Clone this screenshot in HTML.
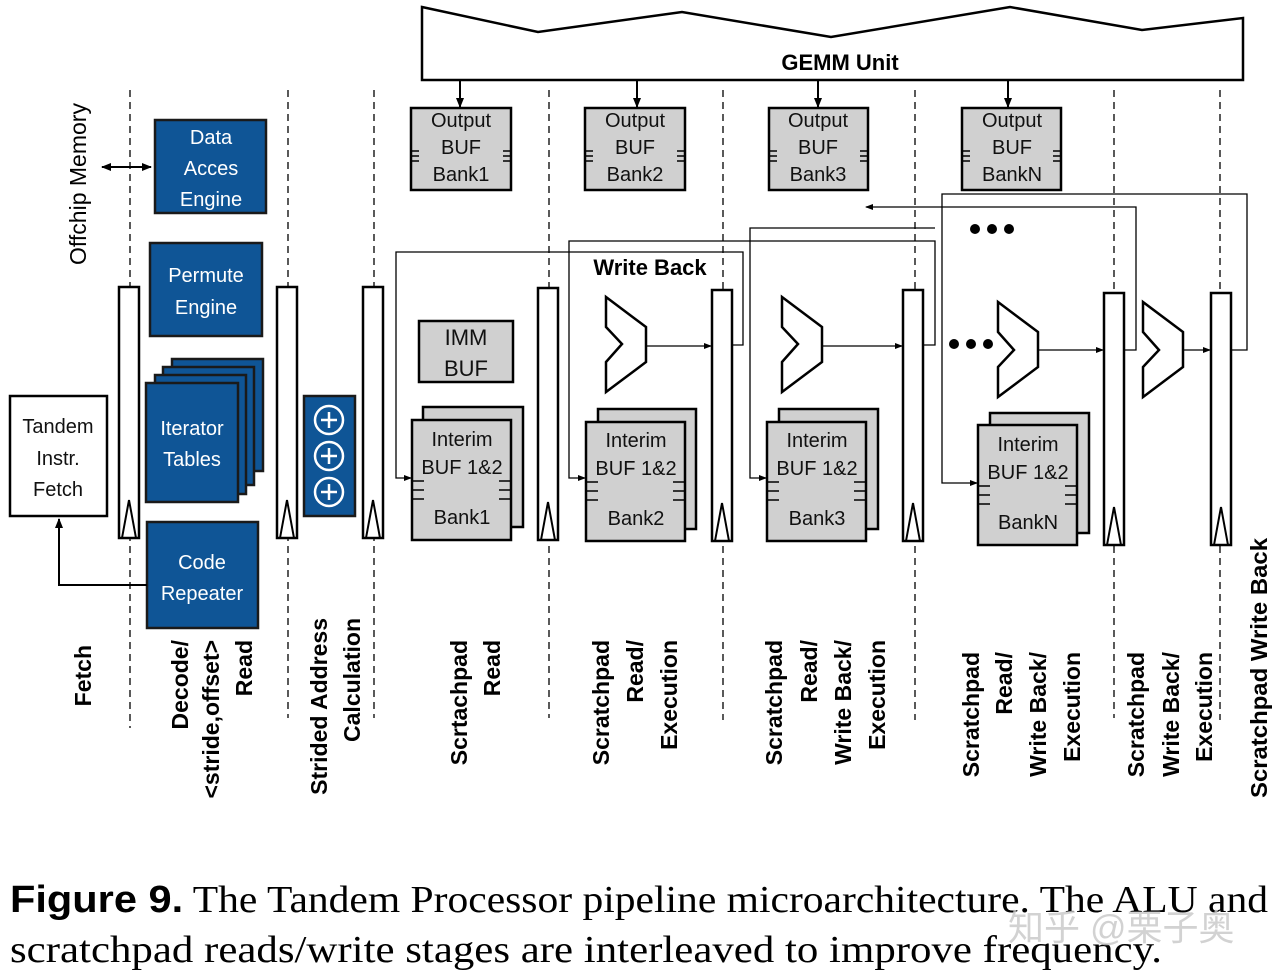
<!DOCTYPE html>
<html><head><meta charset="utf-8"><style>
html,body{margin:0;padding:0;background:#fff;}
svg{display:block;}
.b{font-family:"Liberation Sans",sans-serif;font-size:20px;fill:#fff;text-anchor:middle;}
.g{font-family:"Liberation Sans",sans-serif;font-size:20px;fill:#111;text-anchor:middle;}
.lab{font-family:"Liberation Sans",sans-serif;font-size:23px;font-weight:bold;fill:#000;text-anchor:end;}
</style></head><body>
<svg width="1280" height="978" viewBox="0 0 1280 978" xmlns="http://www.w3.org/2000/svg">
<defs>
<marker id="ar" markerWidth="10" markerHeight="8" refX="9" refY="4" orient="auto" markerUnits="userSpaceOnUse"><path d="M0,0 L10,4 L0,8 z" fill="#000"/></marker>
<marker id="as" markerWidth="8" markerHeight="6" refX="7" refY="3" orient="auto" markerUnits="userSpaceOnUse"><path d="M0,0 L8,3 L0,6 z" fill="#000"/></marker>
<marker id="al" markerWidth="10" markerHeight="8" refX="1" refY="4" orient="auto" markerUnits="userSpaceOnUse"><path d="M10,0 L0,4 L10,8 z" fill="#000"/></marker>
</defs>

<!-- GEMM -->
<path d="M422,7 L538,32 L682,12 L831,37 L1010,7 L1142,30 L1243,18 L1243,80 L422,80 Z" fill="#fff" stroke="#000" stroke-width="2.5"/>
<text x="840" y="70" style="font-family:'Liberation Sans',sans-serif;font-size:22px;font-weight:bold;text-anchor:middle">GEMM Unit</text>
<g stroke="#000" stroke-width="2" marker-end="url(#ar)">
<line x1="460" y1="80" x2="460" y2="107"/><line x1="637" y1="80" x2="637" y2="107"/><line x1="818" y1="80" x2="818" y2="107"/><line x1="1008" y1="80" x2="1008" y2="107"/>
</g>

<!-- dashed lines -->
<g stroke="#000" stroke-width="1.3" stroke-dasharray="7,5">
<line x1="130" y1="90" x2="130" y2="728"/><line x1="288" y1="90" x2="288" y2="718"/><line x1="374" y1="90" x2="374" y2="718"/>
<line x1="549" y1="90" x2="549" y2="718"/><line x1="723" y1="90" x2="723" y2="720"/><line x1="915" y1="90" x2="915" y2="720"/>
<line x1="1114" y1="90" x2="1114" y2="718"/><line x1="1220" y1="90" x2="1220" y2="720"/>
</g>

<!-- Output bufs -->
<g stroke="#000" stroke-width="2.5" fill="#d0d0d0">
<rect x="411" y="108" width="100" height="82"/><rect x="585" y="108" width="100" height="82"/><rect x="769" y="108" width="99" height="82"/><rect x="962" y="108" width="99" height="82"/>
</g>
<g stroke="#000" stroke-width="1.5">
<path d="M411,151h8M411,156h8M411,161h8M503,151h8M503,156h8M503,161h8"/>
<path d="M585,151h8M585,156h8M585,161h8M677,151h8M677,156h8M677,161h8"/>
<path d="M769,151h8M769,156h8M769,161h8M860,151h8M860,156h8M860,161h8"/>
<path d="M962,151h8M962,156h8M962,161h8M1053,151h8M1053,156h8M1053,161h8"/>
</g>
<g class="g">
<text x="461" y="127">Output</text><text x="461" y="154">BUF</text><text x="461" y="181">Bank1</text>
<text x="635" y="127">Output</text><text x="635" y="154">BUF</text><text x="635" y="181">Bank2</text>
<text x="818" y="127">Output</text><text x="818" y="154">BUF</text><text x="818" y="181">Bank3</text>
<text x="1012" y="127">Output</text><text x="1012" y="154">BUF</text><text x="1012" y="181">BankN</text>
</g>

<!-- Offchip memory -->
<text transform="translate(86,184) rotate(-90)" style="font-family:'Liberation Sans',sans-serif;font-size:23px;text-anchor:middle">Offchip Memory</text>
<line x1="102" y1="167" x2="151" y2="167" stroke="#000" stroke-width="2" marker-end="url(#ar)" marker-start="url(#al)"/>

<!-- blue boxes -->
<g fill="#0f5596" stroke="#1a1a1a" stroke-width="2.5">
<rect x="155" y="120" width="111" height="93"/>
<rect x="150" y="243" width="112" height="93"/>
<rect x="172" y="359" width="91" height="112"/>
<rect x="163" y="367" width="91" height="118"/>
<rect x="155" y="375" width="91" height="119"/>
<rect x="146" y="383" width="92" height="119"/>
<rect x="147" y="522" width="111" height="106"/>
<rect x="304" y="396" width="51" height="120"/>
</g>
<g fill="none" stroke="#fff" stroke-width="2.5">
<circle cx="329" cy="420" r="14"/><circle cx="329" cy="456" r="14"/><circle cx="329" cy="492" r="14"/>
<path d="M321,420h16M329,412v16M321,456h16M329,448v16M321,492h16M329,484v16"/>
</g>
<g class="b">
<text x="211" y="144">Data</text><text x="211" y="175">Acces</text><text x="211" y="206">Engine</text>
<text x="206" y="282">Permute</text><text x="206" y="314">Engine</text>
<text x="192" y="435">Iterator</text><text x="192" y="466">Tables</text>
<text x="202" y="569">Code</text><text x="202" y="600">Repeater</text>
</g>

<!-- Tandem fetch -->
<rect x="10" y="396" width="97" height="120" fill="#fff" stroke="#000" stroke-width="2.5"/>
<g class="g"><text x="58" y="433">Tandem</text><text x="58" y="465">Instr.</text><text x="58" y="496">Fetch</text></g>
<polyline points="147,585 59,585 59,519" fill="none" stroke="#000" stroke-width="2" marker-end="url(#ar)"/>

<!-- pipeline registers -->
<g stroke="#000" stroke-width="2.5" fill="#fff">
<rect x="119" y="287" width="20" height="251"/><rect x="277" y="287" width="20" height="251"/><rect x="363" y="287" width="20" height="251"/>
<rect x="538" y="288" width="20" height="252"/><rect x="712" y="290" width="20" height="251"/><rect x="903" y="290" width="20" height="251"/>
<rect x="1104" y="293" width="20" height="252"/><rect x="1211" y="293" width="20" height="252"/>
</g>
<g stroke="#000" stroke-width="2" fill="none">
<path d="M122,538 L129,500 L136,538"/><path d="M280,538 L287,500 L294,538"/><path d="M366,538 L373,500 L380,538"/>
<path d="M541,540 L548,502 L555,540"/><path d="M715,541 L722,503 L729,541"/><path d="M906,541 L913,503 L920,541"/>
<path d="M1107,545 L1114,507 L1121,545"/><path d="M1214,545 L1221,507 L1228,545"/>
</g>

<!-- IMM BUF -->
<rect x="419" y="321" width="94" height="61" fill="#d0d0d0" stroke="#000" stroke-width="2.5"/>
<g class="g" style="font-size:22px"><text x="466" y="345">IMM</text><text x="466" y="376">BUF</text></g>

<!-- Interim bufs -->
<g stroke="#000" stroke-width="2.5" fill="#d0d0d0">
<rect x="423" y="407" width="100" height="120"/><rect x="412" y="420" width="99" height="120"/>
<rect x="598" y="409" width="98" height="120"/><rect x="586" y="422" width="99" height="119"/>
<rect x="779" y="409" width="99" height="120"/><rect x="767" y="422" width="99" height="119"/>
<rect x="990" y="413" width="99" height="120"/><rect x="978" y="425" width="99" height="120"/>
</g>
<g stroke="#000" stroke-width="1.5">
<path d="M412,481h12M412,490h12M412,499h12M499,481h12M499,490h12M499,499h12"/>
<path d="M586,482h12M586,491h12M586,500h12M673,482h12M673,491h12M673,500h12"/>
<path d="M767,482h12M767,491h12M767,500h12M854,482h12M854,491h12M854,500h12"/>
<path d="M978,486h12M978,495h12M978,504h12M1065,486h12M1065,495h12M1065,504h12"/>
</g>
<g class="g">
<text x="462" y="446">Interim</text><text x="462" y="474">BUF 1&amp;2</text><text x="462" y="524">Bank1</text>
<text x="636" y="447">Interim</text><text x="636" y="475">BUF 1&amp;2</text><text x="636" y="525">Bank2</text>
<text x="817" y="447">Interim</text><text x="817" y="475">BUF 1&amp;2</text><text x="817" y="525">Bank3</text>
<text x="1028" y="451">Interim</text><text x="1028" y="479">BUF 1&amp;2</text><text x="1028" y="529">BankN</text>
</g>

<!-- ALUs -->
<g stroke="#000" stroke-width="2.5" fill="#fff">
<path d="M606,297 L646,327 L646,362 L606,392 L606,362 L622,344 L606,327 Z"/>
<path d="M782,297 L822,327 L822,362 L782,392 L782,362 L798,344 L782,327 Z"/>
<path d="M998,302 L1038,332 L1038,367 L998,397 L998,367 L1014,350 L998,332 Z"/>
<path d="M1143,302 L1183,332 L1183,367 L1143,397 L1143,367 L1159,350 L1143,332 Z"/>
</g>
<text x="650" y="275" style="font-family:'Liberation Sans',sans-serif;font-size:22px;font-weight:bold;text-anchor:middle">Write Back</text>

<!-- connectors -->
<g stroke="#000" stroke-width="1.3" fill="none">
<line x1="646" y1="346" x2="711" y2="346" marker-end="url(#as)"/>
<line x1="822" y1="346" x2="902" y2="346" marker-end="url(#as)"/>
<line x1="1038" y1="350" x2="1103" y2="350" marker-end="url(#as)"/>
<line x1="1183" y1="350" x2="1210" y2="350" marker-end="url(#as)"/>
<polyline points="732,345 743,345 743,252 396,252 396,478 411,478" marker-end="url(#as)"/>
<polyline points="923,345 935,345 935,241 569,241 569,478 585,478" marker-end="url(#as)"/>
<polyline points="935,228 750,228 750,478 766,478" marker-end="url(#as)"/>
<polyline points="1124,350 1136,350 1136,207 866,207" marker-end="url(#as)"/>
<polyline points="1231,350 1247,350 1247,194 942,194 942,483 977,483" marker-end="url(#as)"/>
</g>
<g fill="#000">
<circle cx="975" cy="229" r="5"/><circle cx="992" cy="229" r="5"/><circle cx="1009" cy="229" r="5"/>
<circle cx="954" cy="344" r="5"/><circle cx="971" cy="344" r="5"/><circle cx="988" cy="344" r="5"/>
</g>

<!-- stage labels -->
<g class="lab">
<text transform="translate(91,645) rotate(-90)">Fetch</text>
<text transform="translate(188,640) rotate(-90)">Decode/</text>
<text transform="translate(219,640) rotate(-90)">&lt;stride,offset&gt;</text>
<text transform="translate(252,640) rotate(-90)">Read</text>
<text transform="translate(327,618) rotate(-90)">Strided Address</text>
<text transform="translate(360,618) rotate(-90)">Calculation</text>
<text transform="translate(467,640) rotate(-90)">Scrtachpad</text>
<text transform="translate(500,640) rotate(-90)">Read</text>
<text transform="translate(609,640) rotate(-90)">Scratchpad</text>
<text transform="translate(643,640) rotate(-90)">Read/</text>
<text transform="translate(677,640) rotate(-90)">Execution</text>
<text transform="translate(782,640) rotate(-90)">Scratchpad</text>
<text transform="translate(817,640) rotate(-90)">Read/</text>
<text transform="translate(851,640) rotate(-90)">Write Back/</text>
<text transform="translate(885,640) rotate(-90)">Execution</text>
<text transform="translate(979,652) rotate(-90)">Scratchpad</text>
<text transform="translate(1012,652) rotate(-90)">Read/</text>
<text transform="translate(1046,652) rotate(-90)">Write Back/</text>
<text transform="translate(1080,652) rotate(-90)">Execution</text>
<text transform="translate(1144,652) rotate(-90)">Scratchpad</text>
<text transform="translate(1179,652) rotate(-90)">Write Back/</text>
<text transform="translate(1212,652) rotate(-90)">Execution</text>
<text transform="translate(1267,798) rotate(-90)" style="text-anchor:start" textLength="260" lengthAdjust="spacingAndGlyphs">Scratchpad Write Back</text>
</g>

<!-- caption -->
<text x="10" y="912" textLength="1258" lengthAdjust="spacingAndGlyphs" style="font-family:'Liberation Serif',serif;font-size:38px"><tspan font-weight="bold" font-family="Liberation Sans">Figure 9.</tspan> The Tandem Processor pipeline microarchitecture. The ALU and</text>
<text x="10" y="962" textLength="1152" lengthAdjust="spacingAndGlyphs" style="font-family:'Liberation Serif',serif;font-size:38px">scratchpad reads/write stages are interleaved to improve frequency.</text>
<text x="1008" y="940" style="font-family:'Liberation Sans','Noto Sans CJK SC',sans-serif;font-size:36px;fill:#c8c8c8;opacity:0.8">知乎 @栗子奥</text>
</svg>
</body></html>
